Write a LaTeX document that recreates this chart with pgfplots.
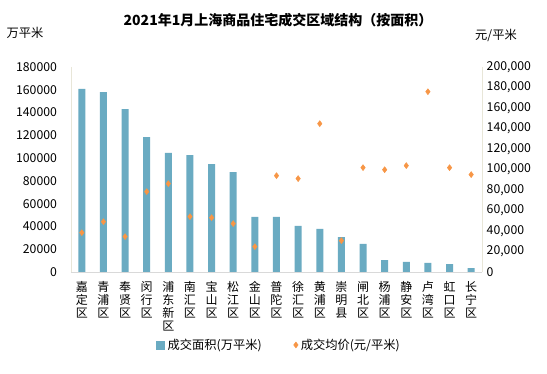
\documentclass[border=0pt]{standalone}
\usepackage{fontspec}
\setmainfont{Noto Sans CJK SC}
\usepackage{pgfplots}
\usepackage{pgfplotstable}
\pgfplotsset{compat=1.18}
\definecolor{barcol}{HTML}{6AABC2}
\definecolor{ptcol}{HTML}{F79646}
\definecolor{axcol}{HTML}{D9D9D9}
\definecolor{ycol}{HTML}{E8E6D8}
\pgfplotstableread{
idx area price
0 160700 38400
1 158000 49100
2 143100 34500
3 118500 78400
4 104500 86200
5 102700 54000
6 94800 53000
7 87800 47200
8 48300 24700
9 48300 94000
10 40400 91100
11 37800 144700
12 30700 30600
13 24600 101800
14 10500 99800
15 8800 103800
16 7900 175900
17 7000 101800
18 3500 95000
}\data
\begin{document}
\begin{tikzpicture}
\path[use as bounding box] (0,0) rectangle (410.25pt,280.5pt);
\pgfplotsset{common/.style={
  scale only axis, width=308.25pt, height=153.75pt,
  at={(53.25pt,76.5pt)}, anchor=south west,
  xmin=-0.5, xmax=18.5,
  axis line style={-},
  major tick length=0pt,
  scaled y ticks=false,
  /pgf/number format/assume math mode=true,
  yticklabel style={font=\fontsize{9.2}{10}\selectfont},
}}
\begin{axis}[common,
  ymin=0, ymax=180000, ytick={0,20000,...,180000},
  axis y line*=left, axis x line*=bottom,
  y axis line style={draw=ycol},
  x axis line style={draw=axcol},
  yticklabel style={/pgf/number format/fixed,/pgf/number format/1000 sep={}},
  yticklabel shift=7pt,
  xtick={0,...,18},
  xticklabels={{嘉\\定\\区},{青\\浦\\区},{奉\\贤\\区},{闵\\行\\区},{浦\\东\\新\\区},{南\\汇\\区},{宝\\山\\区},{松\\江\\区},{金\\山\\区},{普\\陀\\区},{徐\\汇\\区},{黄\\浦\\区},{崇\\明\\县},{闸\\北\\区},{杨\\浦\\区},{静\\安\\区},{卢\\湾\\区},{虹\\口\\区},{长\\宁\\区}},
  xticklabel style={align=center, anchor=north, inner sep=0pt, font=\fontsize{9}{9.7}\selectfont},
  xticklabel shift=7pt,
]
\addplot[ybar, bar width=5.25pt, fill=barcol, draw=none] table[x=idx, y=area] {\data};
\end{axis}
\begin{axis}[common,
  ymin=0, ymax=200000, ytick={0,20000,...,200000},
  axis y line*=right, axis x line=none,
  y axis line style={draw=ycol},
  yticklabel style={/pgf/number format/fixed,/pgf/number format/1000 sep={,}},
  xtick=\empty,
  legend style={at={(0.507,-0.356)}, anchor=center, draw=none, fill=none,
    legend columns=2, font=\fontsize{9.2}{10}\selectfont,
    /tikz/every even column/.append style={column sep=22pt}},
]
\addlegendimage{legend image code/.code={\fill[barcol] (0pt,-3pt) rectangle (6pt,3pt);}}
\addlegendentry{成交面积(万平米)}
\addplot[only marks, mark=diamond*, mark size=2.2pt, color=ptcol] table[x=idx, y=price] {\data};
\addlegendentry{成交均价(元/平米)}
\end{axis}
\node[font=\bfseries\fontsize{10.5}{12}\selectfont] at (208.5pt,265.5pt) {2021年1月上海商品住宅成交区域结构（按面积）};
\node[font=\fontsize{9.2}{10}\selectfont] at (18.75pt,255.75pt) {万平米};
\node[font=\fontsize{9.2}{10}\selectfont] at (372pt,254.25pt) {元/平米};
\end{tikzpicture}
\end{document}
